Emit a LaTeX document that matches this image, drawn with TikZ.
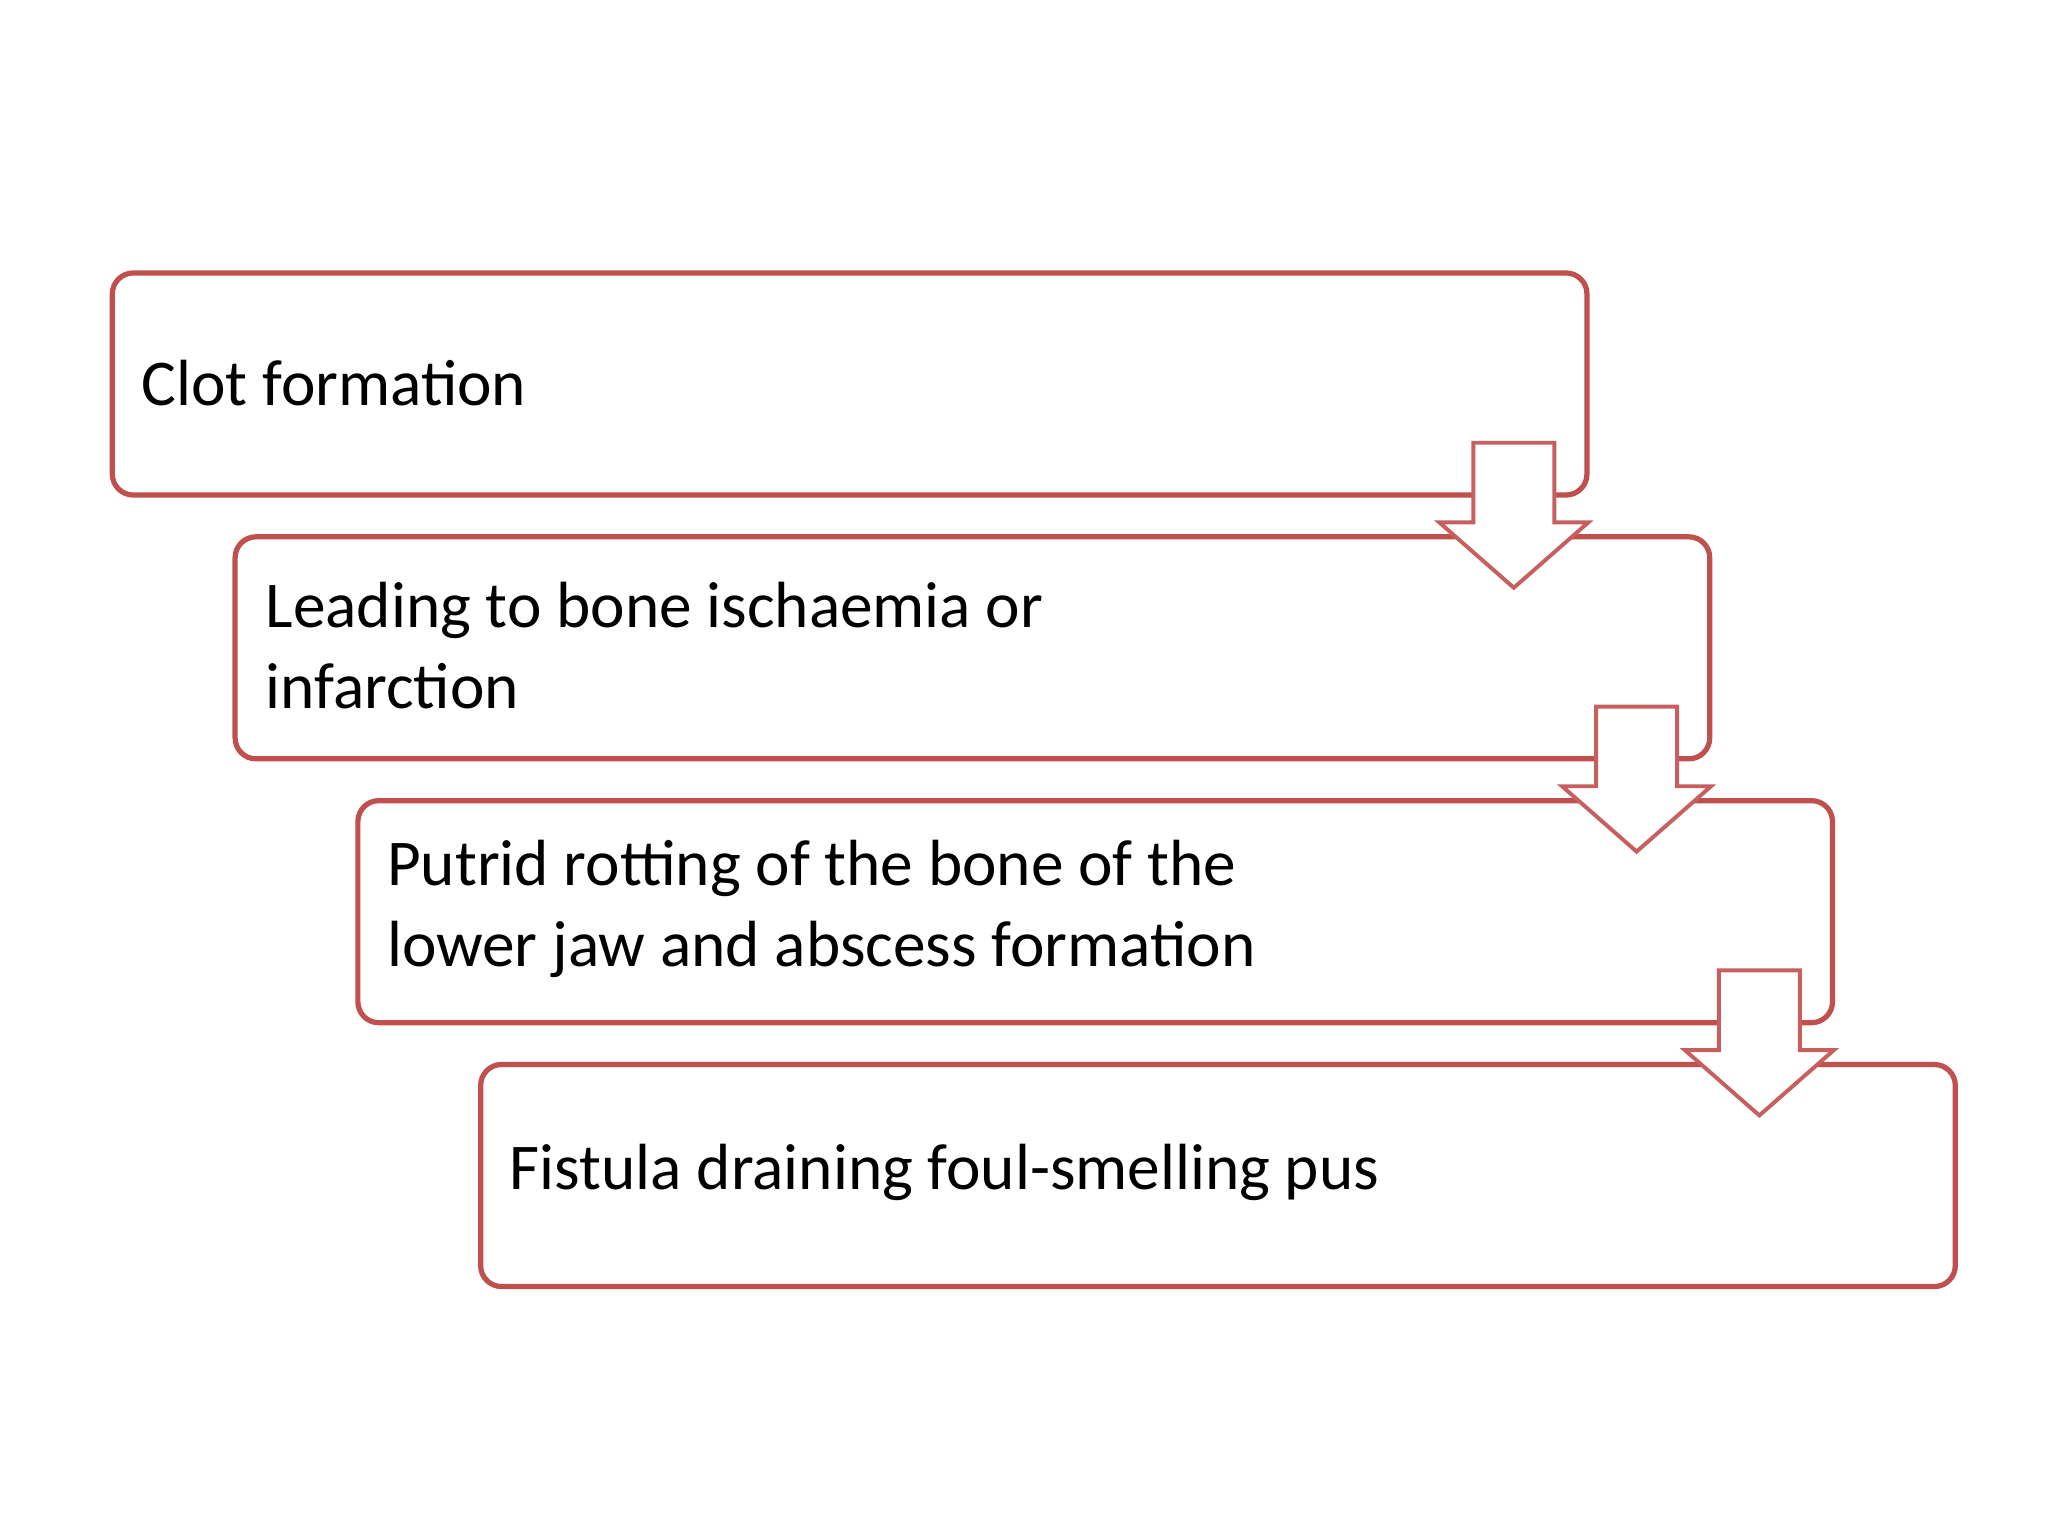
\documentclass[tikz,border=0pt]{standalone}
\usepackage{fontspec}
\setmainfont{Carlito}
\definecolor{boxred}{RGB}{192,80,77}
\definecolor{arrred}{RGB}{200,95,95}
\begin{document}
\begin{tikzpicture}[x=0.5pt,y=-0.5pt,
  stage/.style={draw=boxred,line width=2pt,rounded corners=8pt,fill=white},
  txt/.style={anchor=west,align=left,font=\fontsize{25}{31}\selectfont,inner sep=0pt},
  downarr/.style={draw=arrred,line width=1.5pt,fill=white,line join=miter}]
\useasboundingbox (0,0) rectangle (1568,1176);
\foreach \i/\dx/\dy in {1/0/0,2/94/202,3/188/404,4/282/606}{
  \path[stage] (86+\dx,209+\dy) rectangle (1215+\dx,379+\dy);
}
\node[txt] (t1) at (108,293) {Clot formation};
\node[txt] (t2) at (203,494) {Leading to bone ischaemia or\\infarction};
\node[txt] (t3) at (296,696) {Putrid rotting of the bone of the\\lower jaw and abscess formation};
\node[txt] (t4) at (390,898) {Fistula draining foul-smelling pus};
\foreach \dx/\dy in {0/0,94/202,188/404}{
  \draw[downarr] (1128+\dx,339+\dy)--(1190+\dx,339+\dy)--(1190+\dx,400+\dy)--(1216+\dx,400+\dy)
    --(1159+\dx,450+\dy)--(1102+\dx,400+\dy)--(1128+\dx,400+\dy)--cycle;
}
\end{tikzpicture}
\end{document}
